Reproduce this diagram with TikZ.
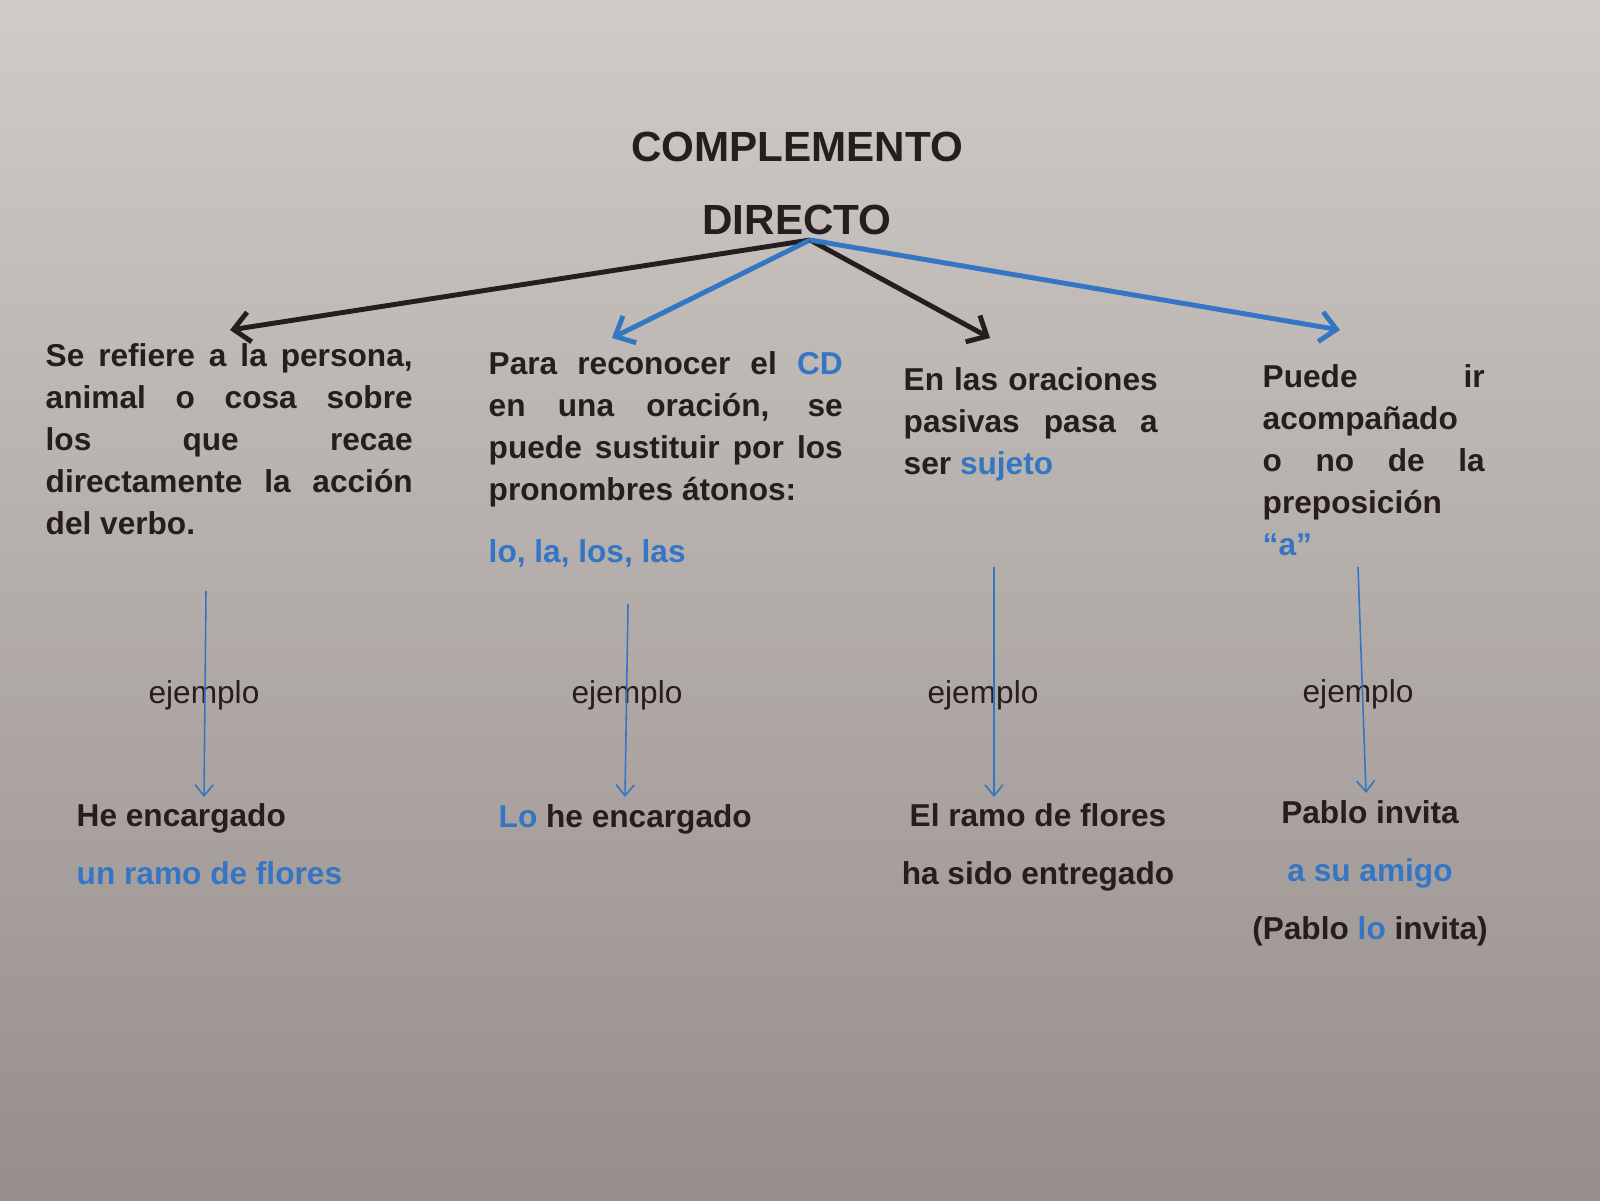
\documentclass[tikz,border=0pt]{standalone}
\usepackage{fontspec}
\setmainfont{Liberation Sans}
\usetikzlibrary{positioning}
\usetikzlibrary{arrows.meta}
\definecolor{cdblue}{RGB}{52,118,196}
\definecolor{ink}{RGB}{38,30,30}
\definecolor{papertop}{RGB}{208,203,199}
\definecolor{paperbot}{RGB}{150,142,140}
\newcommand{\cd}[1]{\textcolor{cdblue}{#1}}
\tikzset{%
  blackarrow/.style = {-{Straight Barb[length=1.6mm,width=3mm]},ink,line width=1.4pt},
  bluearrow/.style = {-{Straight Barb[length=1.6mm,width=3mm]},cdblue,line width=1.4pt},
  thinarrow/.style = {-{Straight Barb[length=1.1mm,width=1.8mm]},cdblue,line width=0.45pt},
  title/.style = {font=\bfseries\fontsize{12}{14}\selectfont,text=ink,inner sep=0pt},
  def/.style = {font=\bfseries\fontsize{9}{12}\selectfont,text=ink,align=justify,
        inner sep=0pt,anchor=base west},
  ej/.style = {font=\fontsize{9}{11}\selectfont,text=ink,inner sep=0pt},
  ex/.style = {font=\bfseries\fontsize{9}{16.5}\selectfont,text=ink,inner sep=0pt}
}
\begin{document}
\begin{tikzpicture}
    \useasboundingbox (0,0) rectangle (16,12);
    \shade[top color=papertop,bottom color=paperbot] (0,0) rectangle (16,12);

    \node[title] (comp) at (7.97,10.53) {COMPLEMENTO};
    \node[title,below=0.42cm of comp] (dir) {DIRECTO};
    \coordinate (hub) at (8.10,9.60);

    \node[def,text width=3.67cm] (refiere) at (0.45,8.34)
        {Se refiere a la persona,\linebreak animal o cosa sobre\linebreak
         los que recae\linebreak directamente la acción\linebreak del verbo.};
    \node[def,text width=3.54cm] (reconocer) at (4.88,8.26)
        {Para reconocer el \cd{CD}\linebreak en una oración, se\linebreak
         puede sustituir por los\linebreak pronombres átonos:};
    \node[def,text=cdblue] (atonos) at (4.88,6.38) {lo, la, los, las};
    \node[def,text width=2.54cm] (pasivas) at (9.03,8.10)
        {En las oraciones\linebreak pasivas pasa a\linebreak ser \cd{sujeto}};
    \node[def,text width=2.22cm] (prepos) at (12.62,8.13)
        {Puede ir\linebreak acompañado\linebreak o no de la\linebreak
         preposición\linebreak \cd{“a”}};

    \coordinate (t1) at (2.30,8.70);
    \coordinate (t2) at (6.12,8.62);
    \coordinate (t3) at (9.90,8.62);
    \coordinate (t4) at (13.40,8.70);
    \draw[blackarrow] (hub) -- (t1);
    \draw[bluearrow] (hub) -- (t2);
    \draw[blackarrow] (hub) -- (t3);
    \draw[bluearrow] (hub) -- (t4);

    \node[ej] (ej1) at (2.04,5.05) {ejemplo};
    \node[ej] (ej2) at (6.27,5.05) {ejemplo};
    \node[ej] (ej3) at (9.83,5.05) {ejemplo};
    \node[ej] (ej4) at (13.58,5.06) {ejemplo};

    \node[ex,align=left,anchor=base west] (ex1) at (0.76,3.16)
        {He encargado\\\cd{un ramo de flores}};
    \node[ex,anchor=base west] (ex2) at (4.98,3.73) {\cd{Lo} he encargado};
    \node[ex,align=center,anchor=base] (ex3) at (10.38,3.16)
        {El ramo de flores\\ha sido entregado};
    \node[ex,align=center,anchor=base] (ex4) at (13.70,2.61)
        {Pablo invita\\\cd{a su amigo}\\(Pablo \cd{lo} invita)};

    \coordinate (s1) at (2.06,6.09);
    \coordinate (e1) at (2.04,4.03);
    \coordinate (s2) at (6.28,5.96);
    \coordinate (e2) at (6.25,4.03);
    \coordinate (s3) at (9.94,6.33);
    \coordinate (e3) at (9.94,4.03);
    \coordinate (s4) at (13.58,6.33);
    \coordinate (e4) at (13.66,4.07);
    \draw[thinarrow] (s1) -- (e1);
    \draw[thinarrow] (s2) -- (e2);
    \draw[thinarrow] (s3) -- (e3);
    \draw[thinarrow] (s4) -- (e4);
\end{tikzpicture}
\end{document}
